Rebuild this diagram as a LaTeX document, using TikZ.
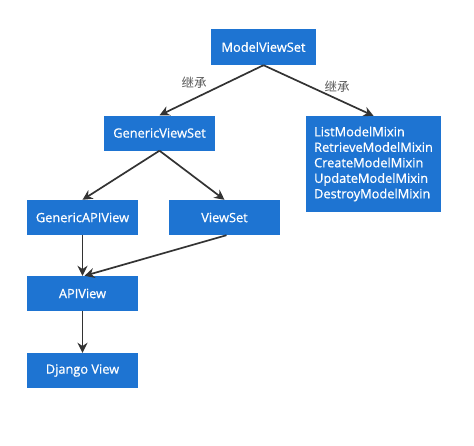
\documentclass[tikz,border=0pt]{standalone}
\usepackage{fontspec}
\setmainfont{Open Sans}
\newfontfamily\boxfont{Open Sans}[FakeBold=0.7]
\newfontfamily\cjk{Noto Sans CJK SC}
\usetikzlibrary{arrows.meta}
\definecolor{boxblue}{RGB}{30,116,210}
\definecolor{linegray}{RGB}{51,51,51}
\definecolor{labgray}{RGB}{90,90,90}
\begin{document}
\begin{tikzpicture}[x=1pt,y=-1pt,
  cls/.style={fill=boxblue, text=white, inner sep=0pt, minimum width=111pt, minimum height=35pt, font=\boxfont\fontsize{12.8}{15}\selectfont},
  inh/.style={draw=linegray, line width=1.7pt, -{Stealth[length=10pt,width=10pt]}},
  lab/.style={text=labgray, font=\cjk\fontsize{12.5}{14}\selectfont, inner sep=0pt}]
\useasboundingbox[fill=white] (0,0) rectangle (474,445);
\node[cls, minimum width=105pt, minimum height=36pt] (mvs) at (263.5,47) {ModelViewSet};
\node[cls] (gvs) at (159.5,133) {GenericViewSet};
\node[cls, minimum width=135pt, minimum height=96pt, align=left, font=\boxfont\fontsize{12.8}{15.5}\selectfont] (mix) at (373.5,164) {ListModelMixin\\RetrieveModelMixin\\CreateModelMixin\\UpdateModelMixin\\DestroyModelMixin};
\node[cls] (gav) at (82.5,217.5) {GenericAPIView};
\node[cls] (vs) at (224.5,217.5) {ViewSet};
\node[cls] (api) at (82.5,293.5) {APIView};
\node[cls] (dj) at (82.5,370.5) {Django View};
\node[lab] (l1) at (194,83) {继承};
\node[lab] (l2) at (337,87) {继承};
\draw[inh] (mvs.south) -- (gvs.north);
\draw[inh] (mvs.south) -- (mix.north);
\draw[inh] (gvs.south) -- (gav.north);
\draw[inh] (gvs.south) -- (vs.north);
\draw[inh] (gav.south) -- (api.north);
\draw[inh] ([xshift=2pt]vs.south) -- ([xshift=2pt]api.north);
\draw[inh] (api.south) -- (dj.north);
\end{tikzpicture}
\end{document}
